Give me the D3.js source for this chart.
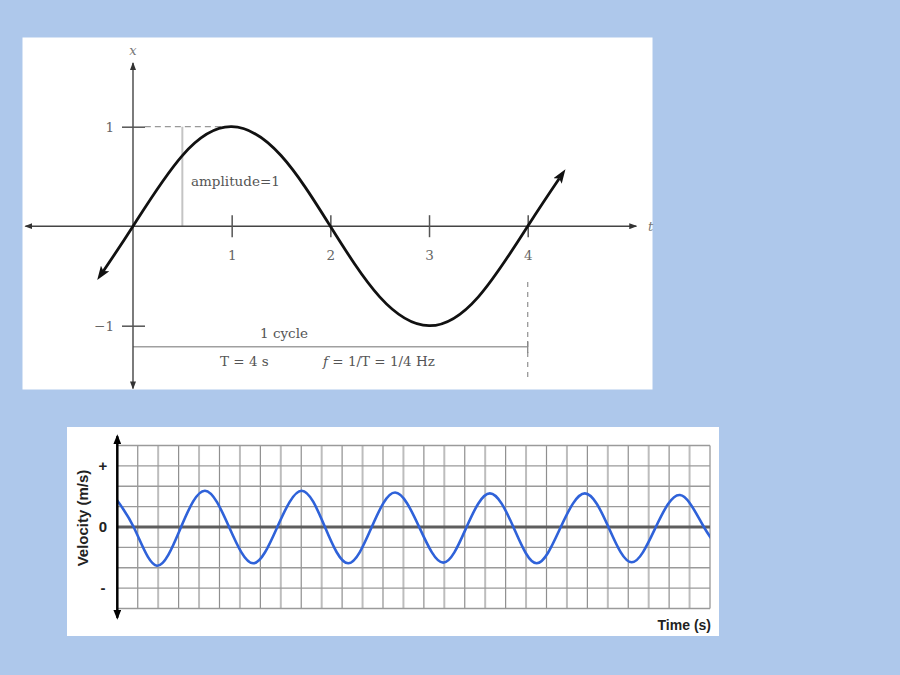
<!DOCTYPE html>
<html>
<head>
<meta charset="utf-8">
<script src="https://cdn.jsdelivr.net/npm/d3@7"></script>
<style>
  body { margin: 0; background: #aec8eb; }
  svg { display: block; }
</style>
</head>
<body>
<svg id="chart" width="900" height="675"></svg>
<script>
var w = 900;
var h = 675;

// ---- top chart: x(t) = sin ----
var cycleT = [-0.3, 0, 0.5, 1, 1.5, 2, 2.5, 3, 3.5, 4, 4.32];
var cycleX = [-0.45, 0, 0.71, 1, 0.71, 0, -0.71, -1, -0.71, 0, 0.48];
var tTicks = [1, 2, 3, 4];
var xTicks = [1, -1];
var xTickLabels = ["1", "\u22121"];

// ---- bottom chart: velocity trace in grid cells / grid rows ----
var velTime = [-0.38, 0.8, 1.94, 3.12, 4.29, 5.47, 6.65, 7.83, 9.02, 10.16, 11.3, 12.45,
               13.59, 14.77, 15.95, 17.09, 18.23, 19.38, 20.52, 21.7, 22.88, 24.03,
               25.17, 26.35, 27.53, 28.7, 29.86];
var velValue = [1.8, 0, -1.9, 0, 1.78, 0, -1.78, 0, 1.78, 0, -1.78, 0,
                1.69, 0, -1.75, 0, 1.65, 0, -1.78, 0, 1.65, 0,
                -1.73, 0, 1.57, 0, -1.6];
var velTicks = [3, 0, -3];
var velTickLabels = ["+", "0", "-"];

var svg = d3.select("#chart");
svg.append("rect").attr("width", w).attr("height", h).attr("fill", "#aec8eb");

var defs = svg.append("defs");
// big arrowhead for the sine curve
defs.append("marker")
    .attr("id", "curveArrow")
    .attr("markerUnits", "userSpaceOnUse")
    .attr("viewBox", "0 0 14 10")
    .attr("refX", 3).attr("refY", 5)
    .attr("markerWidth", 14).attr("markerHeight", 10)
    .attr("orient", "auto-start-reverse")
  .append("path")
    .attr("d", "M0,0 L14,5 L0,10 L3,5 Z")
    .attr("fill", "#111");
// small arrowhead for axes
defs.append("marker")
    .attr("id", "axisArrow")
    .attr("markerUnits", "userSpaceOnUse")
    .attr("viewBox", "0 0 8 6")
    .attr("refX", 7).attr("refY", 3)
    .attr("markerWidth", 8).attr("markerHeight", 6)
    .attr("orient", "auto-start-reverse")
  .append("path")
    .attr("d", "M0,0 L8,3 L0,6 Z")
    .attr("fill", "#333");
defs.append("marker")
    .attr("id", "blackArrow")
    .attr("markerUnits", "userSpaceOnUse")
    .attr("viewBox", "0 0 10 8")
    .attr("refX", 8).attr("refY", 4)
    .attr("markerWidth", 10).attr("markerHeight", 8)
    .attr("orient", "auto-start-reverse")
  .append("path")
    .attr("d", "M0,0 L10,4 L0,8 Z")
    .attr("fill", "#000");

// =================== TOP PANEL ===================
svg.append("rect")
   .attr("x", 22.5).attr("y", 37.5).attr("width", 630).attr("height", 352)
   .attr("fill", "#fff");

var xT = d3.scaleLinear().domain([0, 4]).range([133, 527.7]);
var yT = d3.scaleLinear().domain([-1, 1]).range([325.7, 126.7]);
var serif = "DejaVu Serif, serif";
var topG = svg.append("g");

// guide lines
topG.append("line")
   .attr("x1", xT(0.12)).attr("x2", xT(1))
   .attr("y1", yT(1)).attr("y2", yT(1))
   .attr("stroke", "#999").attr("stroke-width", 1.3)
   .attr("stroke-dasharray", "6,4");
topG.append("line")
   .attr("x1", xT(0.5)).attr("x2", xT(0.5))
   .attr("y1", yT(1)).attr("y2", yT(0))
   .attr("stroke", "#c4c4c4").attr("stroke-width", 2);
topG.append("line")
   .attr("x1", xT(4)).attr("x2", xT(4))
   .attr("y1", 282).attr("y2", 380)
   .attr("stroke", "#999").attr("stroke-width", 1.3)
   .attr("stroke-dasharray", "5,5");
// 1 cycle bracket
topG.append("line")
   .attr("x1", xT(0)).attr("x2", xT(4))
   .attr("y1", 346.7).attr("y2", 346.7)
   .attr("stroke", "#a0a0a0").attr("stroke-width", 1.5);
topG.append("line")
   .attr("x1", xT(4)).attr("x2", xT(4))
   .attr("y1", 341).attr("y2", 353)
   .attr("stroke", "#888").attr("stroke-width", 1.3);

// axes lines
topG.append("line")
   .attr("x1", xT(-1.09)).attr("x2", xT(5.1))
   .attr("y1", yT(0)).attr("y2", yT(0))
   .attr("stroke", "#444").attr("stroke-width", 1.4)
   .attr("marker-start", "url(#axisArrow)")
   .attr("marker-end", "url(#axisArrow)");
topG.append("line")
   .attr("x1", xT(0)).attr("x2", xT(0))
   .attr("y1", yT(-1.63)).attr("y2", yT(1.64))
   .attr("stroke", "#444").attr("stroke-width", 1.4)
   .attr("marker-start", "url(#axisArrow)")
   .attr("marker-end", "url(#axisArrow)");

// ticks through d3 axes
var tAxis = topG.append("g")
   .attr("transform", "translate(0," + (yT(0) - 11) + ")")
   .call(d3.axisBottom(xT).tickValues(tTicks).tickSize(22).tickPadding(13)
         .tickFormat(d3.format("d")));
var xAxis = topG.append("g")
   .attr("transform", "translate(" + (xT(0) + 12) + ",0)")
   .call(d3.axisLeft(yT).tickValues(xTicks).tickSize(23).tickPadding(8)
         .tickFormat(function(d, i) { return xTickLabels[i]; }));
[tAxis, xAxis].forEach(function(a) {
  a.select(".domain").remove();
  a.selectAll(".tick line").attr("stroke", "#555").attr("stroke-width", 1.5);
  a.selectAll(".tick text")
   .attr("fill", "#666").style("font-family", serif).style("font-size", "13.5px");
});

// axis names
topG.append("text")
   .attr("x", 648).attr("y", yT(0) + 5)
   .attr("fill", "#777").style("font-family", serif)
   .style("font-style", "italic").style("font-size", "13px").text("t");
topG.append("text")
   .attr("x", xT(0)).attr("y", 55).attr("text-anchor", "middle")
   .attr("fill", "#777").style("font-family", serif)
   .style("font-style", "italic").style("font-size", "13px").text("x");

// the sine curve
var cycleLine = d3.line()
   .x(function(d, i) { return xT(cycleT[i]); })
   .y(function(d) { return yT(d); })
   .curve(d3.curveNatural);
topG.append("path")
   .datum(cycleX)
   .attr("d", cycleLine)
   .attr("fill", "none")
   .attr("stroke", "#111").attr("stroke-width", 2.8)
   .attr("marker-start", "url(#curveArrow)")
   .attr("marker-end", "url(#curveArrow)");

// annotations
function note(x, y, txt) {
  return topG.append("text")
     .attr("x", x).attr("y", y)
     .attr("fill", "#555").style("font-family", serif).style("font-size", "13.5px")
     .text(txt);
}
note(191, 186, "amplitude=1");
note(260, 338, "1 cycle");
note(220, 366, "T = 4 s");
var fNote = note(323, 366, "");
fNote.append("tspan").style("font-style", "italic").text("f");
fNote.append("tspan").text(" = 1/T = 1/4 Hz");

// =================== BOTTOM PANEL ===================
svg.append("rect")
   .attr("x", 67).attr("y", 427).attr("width", 652).attr("height", 209)
   .attr("fill", "#fff");

var xB = d3.scaleLinear().domain([0, 29]).range([117.3, 710]);
var yB = d3.scaleLinear().domain([-4, 4]).range([608.5, 445.5]);
var sans = "Liberation Sans, Arial, sans-serif";
var bot = svg.append("g");

// grid
bot.selectAll(".vgrid")
   .data(d3.range(1, 30))
   .enter().append("line")
   .attr("class", "vgrid")
   .attr("x1", function(d) { return xB(d); })
   .attr("x2", function(d) { return xB(d); })
   .attr("y1", yB(4)).attr("y2", yB(-4))
   .attr("stroke", function(d) { return d % 2 ? "#8f8f8f" : "#bdbdbd"; })
   .attr("stroke-width", function(d) { return d % 2 ? 1.2 : 2; });
bot.selectAll(".hgrid")
   .data(d3.range(-4, 5).filter(function(d) { return d !== 0; }))
   .enter().append("line")
   .attr("class", "hgrid")
   .attr("x1", xB(0)).attr("x2", xB(29))
   .attr("y1", function(d) { return yB(d); })
   .attr("y2", function(d) { return yB(d); })
   .attr("stroke", "#9a9a9a").attr("stroke-width", 1.3);
bot.append("line")
   .attr("x1", xB(0)).attr("x2", xB(29))
   .attr("y1", yB(0)).attr("y2", yB(0))
   .attr("stroke", "#5e5e5e").attr("stroke-width", 3);

// velocity trace
defs.append("clipPath").attr("id", "gridClip")
  .append("rect")
   .attr("x", xB(0)).attr("y", yB(4.6))
   .attr("width", xB(29) - xB(0)).attr("height", yB(-4.6) - yB(4.6));
var velLine = d3.line()
   .x(function(d, i) { return xB(velTime[i]); })
   .y(function(d) { return yB(d); })
   .curve(d3.curveNatural);
bot.append("path")
   .datum(velValue)
   .attr("d", velLine)
   .attr("clip-path", "url(#gridClip)")
   .attr("fill", "none")
   .attr("stroke", "#2f62d9").attr("stroke-width", 2.6);

// y axis with arrows
bot.append("line")
   .attr("x1", xB(0)).attr("x2", xB(0))
   .attr("y1", yB(-4.45)).attr("y2", yB(4.45))
   .attr("stroke", "#000").attr("stroke-width", 2.5)
   .attr("marker-start", "url(#blackArrow)")
   .attr("marker-end", "url(#blackArrow)");

bot.selectAll(".vlabel")
   .data(velTicks)
   .enter().append("text")
   .attr("class", "vlabel")
   .attr("x", 103)
   .attr("y", function(d) { return yB(d); })
   .attr("dy", "0.35em")
   .attr("text-anchor", "middle")
   .style("font-family", sans).style("font-weight", "bold").style("font-size", "15px")
   .attr("fill", "#222")
   .text(function(d, i) { return velTickLabels[i]; });

bot.append("text")
   .attr("transform", "translate(88,518) rotate(-90)")
   .attr("text-anchor", "middle")
   .style("font-family", sans).style("font-weight", "bold").style("font-size", "15px")
   .attr("fill", "#222")
   .text("Velocity (m/s)");
bot.append("text")
   .attr("x", 711).attr("y", 630)
   .attr("text-anchor", "end")
   .style("font-family", sans).style("font-weight", "bold").style("font-size", "14px")
   .attr("fill", "#222")
   .text("Time (s)");
</script>
</body>
</html>
